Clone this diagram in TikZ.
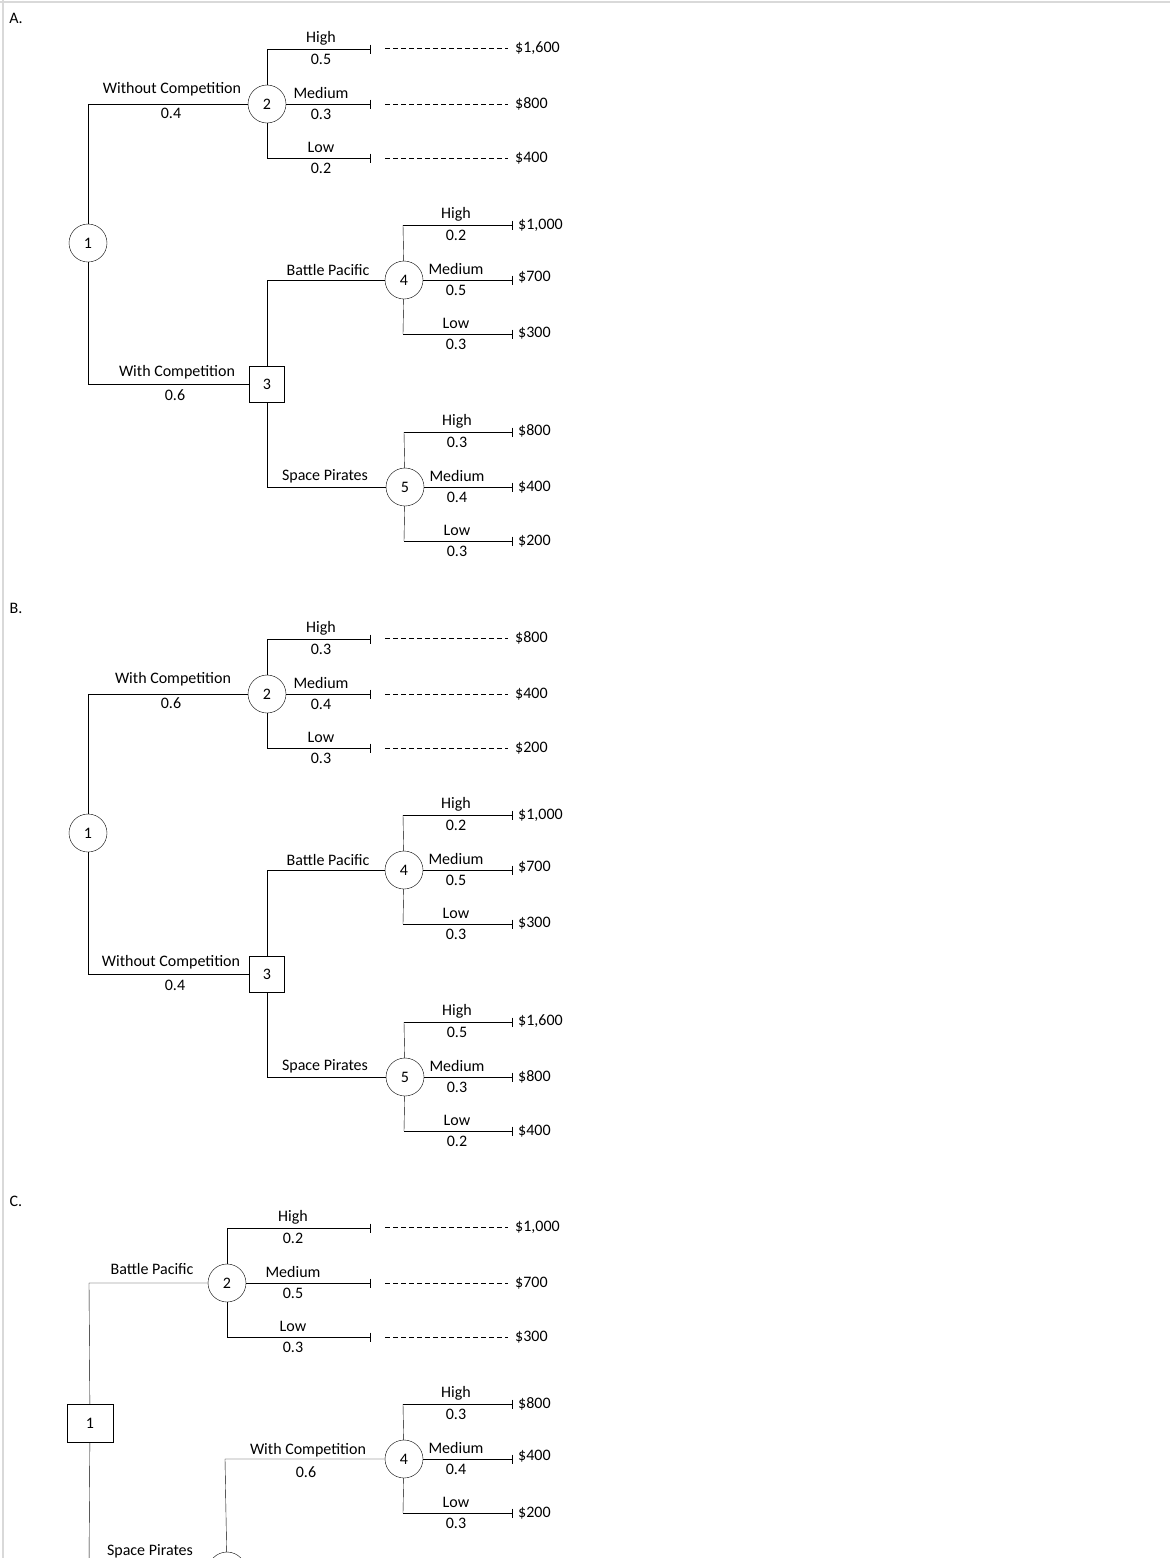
\documentclass[tikz,border=0pt]{standalone}
\usepackage{fontspec}
\setmainfont{Carlito}
\newcommand\fsz{\fontsize{16}{18}\selectfont}
\tikzset{
  lbl/.style={inner sep=0pt,font=\fsz},
  chance/.style={circle,draw,fill=white,minimum size=38pt,inner sep=0pt,font=\fsz},
  dec/.style={rectangle,draw,fill=white,minimum width=35pt,minimum height=36pt,inner sep=0pt,font=\fsz},
  dline/.style={dash pattern=on 5pt off 3pt},
  border/.style={draw=black!15,line width=1.5pt}
}
% leaf: name, start, endx, y, label, prob, labx
\newcommand\leaf[7]{%
  \coordinate (#1) at (#3,#4);
  \draw (#2) -- (#1);
  \draw ([yshift=4.5pt]#1) -- ([yshift=-4.5pt]#1);
  \node[lbl] (#1lab) at (#7,#4-11) {#5};
  \node[lbl] (#1p) at (#7,#4+10) {#6};}
% dashed payoff: name, y, value
\newcommand\dpay[3]{%
  \coordinate (#1a) at (385,#2); \coordinate (#1b) at (508,#2);
  \draw[dline] (#1a) -- (#1b);
  \node[lbl,anchor=west] (#1v) at (515,#2) {#3};}
% direct payoff: name, y, value
\newcommand\pay[3]{\node[lbl,anchor=west] (#1v) at (518,#2) {#3};}
% chance fan: prefix, num, cx, cy, jx, endx, labx, Hp, Mp ; then \fanrest{prefix}{cy}{Lp}
\newcommand\fan[9]{%
  \node[chance] (#1) at (#3,#4) {#2};
  \coordinate (#1h) at (#5,#4-55); \coordinate (#1l) at (#5,#4+54);
  \draw (#1) -- (#1h); \draw (#1) -- (#1l);
  \gdef\fx{#6}\gdef\lx{#7}\gdef\pa{#8}\gdef\pb{#9}}
\newcommand\fanrest[3]{%
  \leaf{#1H}{#1h}{\fx}{#2-55}{High}{\pa}{\lx}
  \leaf{#1M}{#1}{\fx}{#2}{Medium}{\pb}{\lx}
  \leaf{#1L}{#1l}{\fx}{#2+54}{Low}{#3}{\lx}}
\begin{document}
\begin{tikzpicture}[x=1pt,y=-1pt]
\useasboundingbox (0,0) rectangle (1170,1558);
\clip (0,0) rectangle (1170,1558);
\draw[border] (0,2) -- (1170,2);
\draw[border] (3,0) -- (3,1558);

% ---------------- A
\node[lbl] (labA) at (16,18) {A.};
\node[chance] (a1) at (88,243) {1};
\coordinate (a1t) at (88,104); \coordinate (a1b) at (88,384);
\fan{a2}{2}{267}{104}{267}{370}{321}{0.5}{0.3}\fanrest{a2}{104}{0.2}
\node[dec] (a3) at (267,384) {3};
\draw (a1) -- (a1t) -- (a2);
\draw (a1) -- (a1b) -- (a3);
\node[lbl] at (172,89) {Without Competition};
\node[lbl] at (171,113) {0.4};
\node[lbl] at (177,372) {With Competition};
\node[lbl] at (175,395) {0.6};
\dpay{a2H}{48}{\$1,600}\dpay{a2M}{104}{\$800}\dpay{a2L}{158}{\$400}
\coordinate (a3t) at (267,280); \coordinate (a3b) at (267,487);
\fan{a4}{4}{404}{280}{403}{512}{456}{0.2}{0.5}\fanrest{a4}{280}{0.3}
\fan{a5}{5}{405}{487}{404}{512}{457}{0.3}{0.4}\fanrest{a5}{487}{0.3}
\draw (a3) -- (a3t) -- (a4);
\draw (a3) -- (a3b) -- (a5);
\node[lbl] at (328,270) {Battle Pacific};
\node[lbl] at (325,476) {Space Pirates};
\pay{a4H}{225}{\$1,000}\pay{a4M}{277}{\$700}\pay{a4L}{333}{\$300}
\pay{a5H}{431}{\$800}\pay{a5M}{487}{\$400}\pay{a5L}{541}{\$200}

% ---------------- B
\begin{scope}[yshift=-590pt]
\node[lbl] (labB) at (16,18) {B.};
\node[chance] (b1) at (88,243) {1};
\coordinate (b1t) at (88,104); \coordinate (b1b) at (88,384);
\fan{b2}{2}{267}{104}{267}{370}{321}{0.3}{0.4}\fanrest{b2}{104}{0.3}
\node[dec] (b3) at (267,384) {3};
\draw (b1) -- (b1t) -- (b2);
\draw (b1) -- (b1b) -- (b3);
\node[lbl] at (173,89) {With Competition};
\node[lbl] at (171,113) {0.6};
\node[lbl] at (171,372) {Without Competition};
\node[lbl] at (175,395) {0.4};
\dpay{b2H}{48}{\$800}\dpay{b2M}{104}{\$400}\dpay{b2L}{158}{\$200}
\coordinate (b3t) at (267,280); \coordinate (b3b) at (267,487);
\fan{b4}{4}{404}{280}{403}{512}{456}{0.2}{0.5}\fanrest{b4}{280}{0.3}
\fan{b5}{5}{405}{487}{404}{512}{457}{0.5}{0.3}\fanrest{b5}{487}{0.2}
\draw (b3) -- (b3t) -- (b4);
\draw (b3) -- (b3b) -- (b5);
\node[lbl] at (328,270) {Battle Pacific};
\node[lbl] at (325,476) {Space Pirates};
\pay{b4H}{225}{\$1,000}\pay{b4M}{277}{\$700}\pay{b4L}{333}{\$300}
\pay{b5H}{431}{\$1,600}\pay{b5M}{487}{\$800}\pay{b5L}{541}{\$400}
\end{scope}

% ---------------- C
\begin{scope}[yshift=-1180pt]
\node[lbl] (labC) at (16,21) {C.};
\node[dec,minimum width=46pt,minimum height=38pt] (c1) at (90,243) {1};
\coordinate (c1t) at (89,103); \coordinate (c1b) at (89,385);
\fan{c2}{2}{227}{103}{227}{370}{293}{0.2}{0.5}\fanrest{c2}{103}{0.3}
\node[chance] (c5) at (227,391) {};
\draw (c1) -- (c1t) -- (c2);
\draw (c1) -- (c1b) -- (c5);
\node[lbl] at (152,89) {Battle Pacific};
\node[lbl] at (150,371) {Space Pirates};
\dpay{c2H}{47}{\$1,000}\dpay{c2M}{103}{\$700}\dpay{c2L}{157}{\$300}
\coordinate (c5t) at (225,279);
\fan{c4}{4}{404}{279}{403}{512}{456}{0.3}{0.4}\fanrest{c4}{279}{0.3}
\draw (c5) -- (c5t) -- (c4);
\node[lbl] at (308,270) {With Competition};
\node[lbl] at (306,292) {0.6};
\pay{c4H}{224}{\$800}\pay{c4M}{276}{\$400}\pay{c4L}{333}{\$200}
\end{scope}
\end{tikzpicture}
\end{document}
